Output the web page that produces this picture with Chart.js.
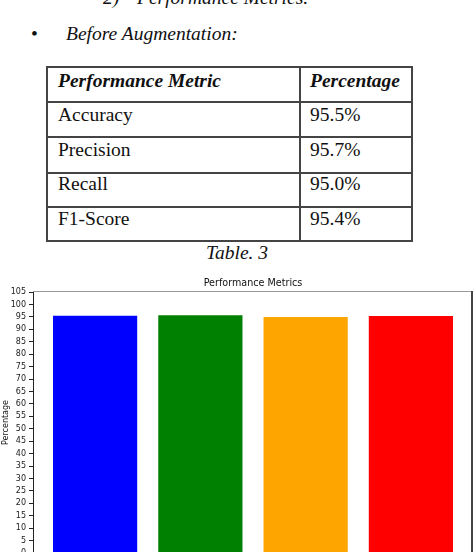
<!DOCTYPE html>
<html>
<head>
<meta charset="utf-8">
<script src="https://cdn.jsdelivr.net/npm/chart.js@4/dist/chart.umd.min.js"></script>
<style>
  html, body { margin:0; padding:0; background:#fff; }
  body { width:474px; height:552px; overflow:hidden; position:relative; }
  .t { position:absolute; font-family:"Liberation Serif","Times New Roman",serif; font-size:19.5px; line-height:19.5px; color:#111; white-space:nowrap; }
  .i { font-style:italic; }
  .bi { font-style:italic; font-weight:bold; }
  .ln { position:absolute; background:#444; }
  #chartCanvas { position:absolute; left:0; top:270px; }
</style>
</head>
<body>
<script>
// ---- data ----
const categories = ['Accuracy', 'Precision', 'Recall', 'F1-Score'];
const percentages = [95.5, 95.7, 95.0, 95.4];
const barColors = ['#0000ff', '#008000', '#ffa500', '#ff0000'];
const yTickValues = [0, 5, 10, 15, 20, 25, 30, 35, 40, 45, 50, 55, 60, 65, 70, 75, 80, 85, 90, 95, 100, 105];
const tableHeaders = ['Performance Metric', 'Percentage'];
const chartTitle = 'Performance Metrics';
const yAxisLabel = 'Percentage';
</script>

<div class="t i" style="left:103px; top:-12.3px;">2)</div>
<div class="t i" style="left:137px; top:-12.3px;">Performance Metrics.</div>
<div class="t" style="left:31px; top:23.7px;">•</div>
<div class="t i" style="left:66px; top:23.7px;">Before Augmentation:</div>

<div id="table"></div>
<div class="t i" style="left:0; width:474px; text-align:center; top:242.7px;">Table. 3</div>

<canvas id="chartCanvas" width="474" height="303"></canvas>

<script>
// ---- table ----
(function(){
  const host = document.getElementById('table');
  const hLines = [66, 101, 136, 171.5, 206, 240];
  hLines.forEach(y => {
    const d = document.createElement('div'); d.className = 'ln';
    d.style.cssText = `left:46px; top:${y}px; width:367px; height:2px;`;
    host.appendChild(d);
  });
  [46, 299, 411].forEach(x => {
    const d = document.createElement('div'); d.className = 'ln';
    d.style.cssText = `left:${x}px; top:66px; width:2px; height:176px;`;
    host.appendChild(d);
  });
  const colX = [58, 310];
  tableHeaders.forEach((h, j) => {
    const d = document.createElement('div'); d.className = 't bi';
    d.style.left = colX[j] + 'px'; d.style.top = '70.7px'; d.textContent = h;
    host.appendChild(d);
  });
  const rowTops = [105.4, 140.2, 174.2, 208.7];
  categories.forEach((c, i) => {
    const a = document.createElement('div'); a.className = 't';
    a.style.left = colX[0] + 'px'; a.style.top = rowTops[i] + 'px'; a.textContent = c;
    host.appendChild(a);
    const b = document.createElement('div'); b.className = 't';
    b.style.left = colX[1] + 'px'; b.style.top = rowTops[i] + 'px'; b.textContent = percentages[i].toFixed(1) + '%';
    host.appendChild(b);
  });
})();

// ---- chart ----
const framePlugin = {
  id: 'frame',
  afterDatasetsDraw(chart) {
    const {ctx, chartArea: a} = chart;
    ctx.save();
    ctx.lineWidth = 1;
    ctx.strokeStyle = '#9a9a9a';
    ctx.beginPath(); ctx.moveTo(a.left, Math.round(a.top) - 0.5); ctx.lineTo(a.right, Math.round(a.top) - 0.5); ctx.stroke();
    ctx.lineWidth = 2;
    ctx.strokeStyle = '#444';
    ctx.beginPath(); ctx.moveTo(Math.round(a.right) - 1, a.top - 1); ctx.lineTo(Math.round(a.right) - 1, a.bottom); ctx.stroke();
    ctx.restore();
  }
};

new Chart(document.getElementById('chartCanvas'), {
  type: 'bar',
  data: {
    datasets: [{
      data: categories.map((c, i) => ({x: i, y: percentages[i]})),
      backgroundColor: barColors,
      borderWidth: 0,
      categoryPercentage: 1.0,
      barPercentage: 0.8
    }]
  },
  options: {
    responsive: false,
    devicePixelRatio: 1,
    animation: false,
    layout: { padding: { left: 0, right: 1, top: 0, bottom: 0 } },
    plugins: {
      legend: { display: false },
      tooltip: { enabled: false },
      title: {
        display: true,
        fullSize: false,
        text: chartTitle,
        color: '#111',
        font: { family: 'DejaVu Sans', size: 9.6, weight: 'normal' },
        padding: { top: 8, bottom: 2.5 }
      }
    },
    scales: {
      x: {
        type: 'linear',
        offset: false,
        min: -0.59,
        max: 3.59,
        afterBuildTicks: s => { s.ticks = categories.map((c, i) => ({value: i})); },
        afterFit: s => { s.height = 20; },
        ticks: {
          callback: v => categories[v] ?? '',
          font: { family: 'DejaVu Sans', size: 8 },
          color: '#111'
        },
        grid: { display: false, offset: false },
        border: { display: false }
      },
      y: {
        min: 0,
        max: 105,
        afterBuildTicks: s => { s.ticks = yTickValues.map(v => ({value: v})); },
        afterFit: s => { s.width = 33; },
        ticks: {
          autoSkip: false,
          padding: 3,
          color: '#1a1a1a',
          font: { family: 'DejaVu Sans', size: 8 }
        },
        grid: { drawOnChartArea: false, drawTicks: true, tickLength: 4, tickColor: '#222', lineWidth: 1 },
        border: { display: true, color: '#222', width: 1 },
        title: {
          display: true,
          text: yAxisLabel,
          color: '#111',
          font: { family: 'DejaVu Sans', size: 8 },
          padding: { top: 1, bottom: 0 }
        }
      }
    }
  },
  plugins: [framePlugin]
});
</script>
</body>
</html>
